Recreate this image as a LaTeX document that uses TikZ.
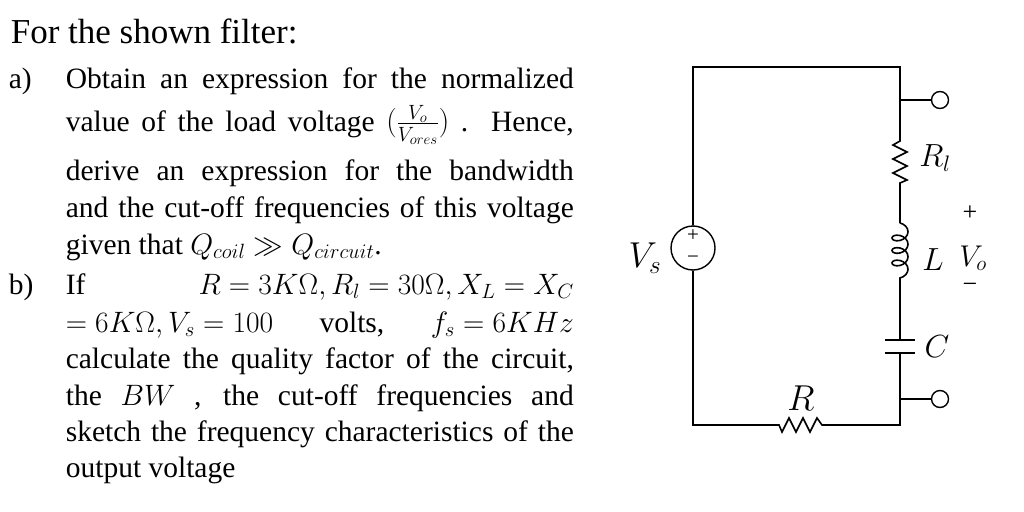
\documentclass[tikz,border=0pt]{standalone}
\usepackage{fix-cm}
\usepackage{fontspec}
\setmainfont{Liberation Serif}
\usetikzlibrary{decorations.pathmorphing}
\begin{document}
\begin{tikzpicture}[x=1pt,y=-1pt,line width=1.6pt,
  txt/.style={anchor=base west,inner sep=0pt,font=\fontsize{29.5}{32}\selectfont},
  lbl/.style={inner sep=0pt},
  term/.style={circle,draw,fill=white,minimum size=17pt,inner sep=0pt,line width=1.4pt}]
\useasboundingbox (0,0) rectangle (1024,511);
\node[txt,font=\fontsize{35}{38}\selectfont] (t0) at (10,44) {For the shown filter:};
\node[txt] (a) at (8,88) {a)};
\node[txt] (l1) at (65,88) {\makebox[508pt][s]{Obtain an expression for the normalized}};
\node[txt] (l2) at (65,131) {\makebox[508pt][s]{value of the load voltage $\Bigl(\frac{V_o}{V_{ores}}\Bigr)$ . Hence,}};
\node[txt] (l3) at (65,180) {\makebox[508pt][s]{derive an expression for the bandwidth}};
\node[txt] (l4) at (65,217) {\makebox[508pt][s]{and the cut-off frequencies of this voltage}};
\node[txt] (l5) at (65,254) {given that $Q_{coil}\gg Q_{circuit}$.};
\node[txt] (b) at (8,294) {b)};
\node[txt] (l6) at (65,294) {\makebox[508pt][l]{If\hfill$R=3K\Omega, R_l=30\Omega, X_L=X_C$}};
\node[txt] (l7) at (65,332) {\makebox[508pt][l]{$=6K\Omega, V_s=100$\hfill volts,\hfill $f_s=6KHz$}};
\node[txt] (l8) at (65,368) {\makebox[508pt][s]{calculate the quality factor of the circuit,}};
\node[txt] (l9) at (65,405) {\makebox[508pt][s]{the $BW$ , the cut-off frequencies and}};
\node[txt] (l10) at (65,441) {\makebox[508pt][s]{sketch the frequency characteristics of the}};
\node[txt] (l11) at (65,477) {output voltage};
% circuit
\coordinate (tl) at (693,67);
\coordinate (tr) at (900,67);
\coordinate (bl) at (693,425);
\coordinate (br) at (900,425);
\node[circle,draw,minimum size=44pt,inner sep=0pt,line width=1.4pt] (vs) at (693,248) {};
\node[lbl] (sp) at (693,236) {\fontsize{21}{21}\selectfont +};
\node[lbl] (sm) at (693,260) {\fontsize{21}{21}\selectfont −};
\draw (vs.north) -- (tl) -- (tr) -- (900,138)
  -- (900,141) -- (893,145) -- (907,152) -- (893,159) -- (907,166) -- (893,173) -- (907,180) -- (900,183)
  -- (900,223);
\draw decorate[decoration={coil,aspect=0.7,segment length=12.5pt,amplitude=8pt}] {(900,223) -- (900,287)};
\draw (900,287) -- (900,340);
\draw (885,340) -- (915,340);
\draw (885,353) -- (915,353);
\draw (900,353) -- (br) -- (825,425)
  -- (822,425) -- (817,418) -- (810,432) -- (803,418) -- (796,432) -- (789,418) -- (782,432) -- (779,425)
  -- (bl) -- (vs.south);
\node[term] (o1) at (940,100) {};
\node[term] (o2) at (940,399) {};
\draw (900,100) -- (o1);
\draw (900,399) -- (o2);
\node[lbl] (rl) at (935,158) {\fontsize{32}{34}\selectfont $R_l$};
\node[lbl] (L) at (933,260) {\fontsize{32}{34}\selectfont $L$};
\node[lbl] (C) at (937,347) {\fontsize{32}{34}\selectfont $C$};
\node[lbl] (vo) at (973,258) {\fontsize{30}{34}\selectfont $V_o$};
\node[lbl] (pl) at (970,213) {\fontsize{26}{26}\selectfont +};
\node[lbl] (mi) at (970,288) {\fontsize{26}{26}\selectfont −};
\node[lbl] (vsl) at (645,258) {\fontsize{36}{38}\selectfont $V_s$};
\node[lbl] (rr) at (801,398) {\fontsize{36}{38}\selectfont $R$};
\end{tikzpicture}
\end{document}
